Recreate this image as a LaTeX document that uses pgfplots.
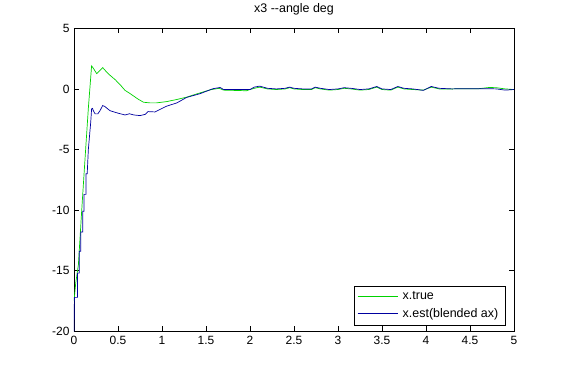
\documentclass[border=0pt]{standalone}
\usepackage{fontspec}
\setmainfont{Liberation Sans}
\usepackage{pgfplots}
\pgfplotsset{compat=1.18}
\definecolor{mgreen}{RGB}{0,210,0}
\definecolor{mblue}{RGB}{0,0,160}
\begin{document}
\begin{tikzpicture}
\begin{axis}[
  name=ax,
  scale only axis,
  width=440bp, height=303bp,
  xmin=0, xmax=5, ymin=-20, ymax=5,
  xtick={0,0.5,...,5},
  ytick={-20,-15,-10,-5,0,5},
  xticklabels={0,0.5,1,1.5,2,2.5,3,3.5,4,4.5,5},
  /pgf/number format/assume math mode=true,
  tick align=inside,
  major tick length=5bp,
  axis line style={line width=0.6bp},
  tick style={line width=0.6bp, black},
  ticklabel style={font=\fontsize{12}{14}\selectfont},
  xticklabel style={yshift=-1bp},
  yticklabel style={xshift=-1bp},
  title={x3 -{}-angle deg},
  title style={font=\fontsize{12.5}{14}\selectfont, at={(axis description cs:0.5,1)}, anchor=base, yshift=10bp},
  legend style={at={(axis description cs:0.982,0.02)}, anchor=south east,
    font=\fontsize{12.5}{14}\selectfont, draw=black, line width=0.6bp,
    inner xsep=3bp, inner ysep=4bp, row sep=3bp,
    nodes={inner xsep=4.5bp, inner ysep=2bp}},
  legend cell align=left,
  legend image code/.code={\draw[#1,line width=1bp] (0bp,0bp) -- (40bp,0bp);},
]
\addplot[draw=mgreen, line width=0.7bp] coordinates {
(0,-17.5)(0.02,-16)(0.05,-14.5)(0.087,-10.1)(0.125,-5.8)(0.163,-1.6)(0.20,1.9)(0.22,1.7)(0.258,1.26)(0.29,1.5)(0.326,1.76)(0.37,1.4)(0.41,1.12)(0.47,0.75)(0.53,0.3)(0.58,-0.12)(0.63,-0.35)(0.68,-0.6)(0.73,-0.85)(0.79,-1.1)(0.86,-1.15)(0.94,-1.15)(1.05,-1.05)(1.17,-0.87)(1.28,-0.68)(1.4,-0.4)(1.55,-0.07)(1.65,0.05)(1.70,-0.1)(1.96,-0.15)(2.0,-0.05)(2.05,0.05)(2.11,0.15)(2.2,0.0)(2.3,-0.05)(2.4,0.0)(2.45,0.1)(2.5,0.0)(2.6,-0.05)(2.7,-0.05)(2.74,0.1)(2.8,0.0)(2.9,-0.1)(3.0,-0.05)(3.07,0.05)(3.15,0.0)(3.25,-0.1)(3.35,-0.05)(3.44,0.15)(3.5,-0.05)(3.6,-0.1)(3.68,0.15)(3.75,0.0)(3.85,-0.05)(3.97,-0.1)(4.06,0.15)(4.15,0.0)(4.3,0.0)(4.38,0.02)(4.6,0.02)(4.72,0.12)(4.8,0.1)(4.9,0.0)(5,-0.05)
};
\addlegendentry{x.true}
\addplot[draw=mblue, line width=0.7bp] coordinates {
(0,-20)(0.005,-17.2)(0.04,-17.2)(0.04,-15.2)(0.06,-15.2)(0.06,-13.4)(0.076,-13.4)(0.076,-11.8)(0.1,-11.8)(0.1,-10.1)(0.114,-10.1)(0.114,-8.7)(0.136,-8.7)(0.136,-7.0)(0.15,-7)(0.163,-5)(0.175,-4)(0.19,-2.76)(0.2,-1.65)(0.21,-1.6)(0.22,-1.8)(0.24,-2.06)(0.27,-2.06)(0.295,-1.8)(0.326,-1.37)(0.35,-1.45)(0.41,-1.8)(0.5,-2.0)(0.58,-2.15)(0.63,-2.05)(0.68,-2.15)(0.75,-2.2)(0.81,-2.1)(0.84,-1.87)(0.92,-1.9)(1.05,-1.43)(1.17,-1.15)(1.28,-0.7)(1.43,-0.4)(1.58,0.02)(1.66,0.12)(1.70,-0.05)(2.0,-0.05)(2.05,0.15)(2.11,0.23)(2.2,0.05)(2.3,0.0)(2.4,0.05)(2.45,0.15)(2.5,0.05)(2.6,0.0)(2.7,0.0)(2.74,0.15)(2.8,0.05)(2.9,-0.05)(3.0,0.0)(3.07,0.1)(3.15,0.05)(3.25,-0.05)(3.35,0.0)(3.44,0.2)(3.5,0.0)(3.6,-0.05)(3.68,0.2)(3.75,0.05)(3.85,0.0)(3.97,-0.12)(4.06,0.2)(4.15,0.05)(4.3,0.0)(4.38,0.02)(4.7,0.02)(4.8,0.0)(4.85,-0.05)(4.9,-0.1)(5,-0.05)
};
\addlegendentry{x.est(blended ax)}
\end{axis}
\useasboundingbox ([shift={(-74bp,-41bp)}]ax.south west) rectangle ++(568bp,372bp);
\end{tikzpicture}
\end{document}
